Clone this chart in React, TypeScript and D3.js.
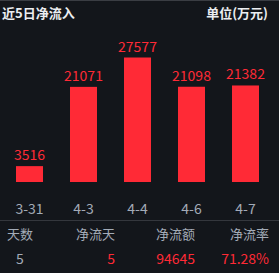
import React from "react";
import * as d3 from "d3";

const categories = ["3-31", "4-3", "4-4", "4-6", "4-7"];
const values = [3516, 21071, 27577, 21098, 21382];
const title = "近5日净流入";
const unit = "单位(万元)";
const summaryHeaders = ["天数", "净流天", "净流额", "净流率"];
const summaryValues = ["5", "5", "94645", "71.28%"];

const W = 279;
const H = 273;
const BG = "#13161b";
const RED = "#ff2a36";
const GRAY = "#a3abb7";
const FONT = "'Noto Sans CJK SC', 'Noto Sans', sans-serif";

export default function App() {
  const x = d3.scaleBand<string>().domain(categories).range([2.5, 272.5]).paddingInner(0.5).paddingOuter(0.25);
  const maxV = d3.max(values) as number;
  const y = d3.scaleLinear().domain([0, maxV]).range([182, 57.5]);

  const colX = [20, 115, 195, 269];
  const colAnchor = ["middle", "end", "end", "end"];
  const valColor = [GRAY, RED, RED, RED];

  return (
    <svg width={W} height={H} style={{ position: "fixed", left: 0, top: 0, background: BG }} fontFamily={FONT}>
      <rect x={0} y={0} width={W} height={H} fill={BG} />
      <rect x={0} y={0} width={W} height={1} fill="#3a3d43" />
      <text x={2} y={18} fill="#eceef1" fontSize={13} fontWeight="bold">{title}</text>
      <text x={268} y={18} fill="#eceef1" fontSize={13} fontWeight="bold" textAnchor="end">{unit}</text>
      {categories.map((c, i) => {
        const bx = x(c) as number;
        const top = y(values[i]);
        return (
          <g key={c}>
            <rect x={bx} y={top} width={x.bandwidth()} height={y(0) - top} fill={RED} />
            <text x={bx + x.bandwidth() / 2} y={top - 6} fill={RED} fontSize={14} textAnchor="middle">{values[i]}</text>
            <text x={bx + x.bandwidth() / 2} y={214} fill={GRAY} fontSize={14} textAnchor="middle">{c}</text>
          </g>
        );
      })}
      <rect x={0} y={220} width={W} height={1} fill="#34373d" />
      {summaryHeaders.map((h, i) => (
        <text key={h} x={colX[i]} y={239} fill={GRAY} fontSize={13} textAnchor={colAnchor[i]}>{h}</text>
      ))}
      {summaryValues.map((v, i) => (
        <text key={i} x={colX[i]} y={263.5} fill={valColor[i]} fontSize={14} textAnchor={colAnchor[i]}>{v}</text>
      ))}
    </svg>
  );
}
